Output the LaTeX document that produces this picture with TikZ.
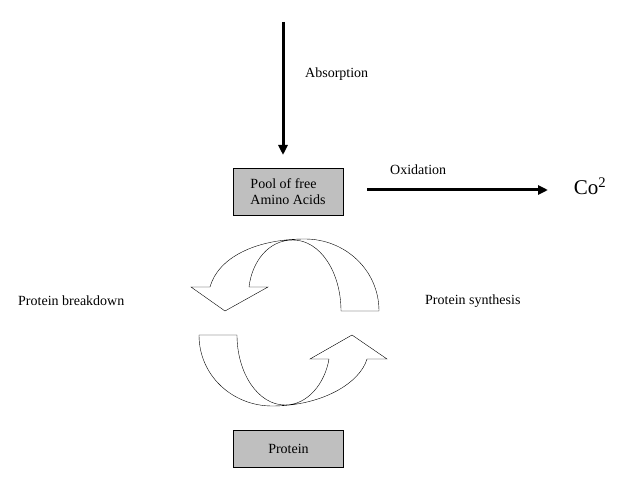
\documentclass[tikz,border=0pt]{standalone}
\usepackage{fontspec}
\setmainfont{Liberation Serif}
\usetikzlibrary{arrows.meta}
\begin{document}
\begin{tikzpicture}[x=1pt,y=-1pt,
 box/.style={draw,fill=black!25,minimum width=110pt,align=left,inner sep=2pt,font=\fontsize{14}{16}\selectfont},
 lbl/.style={font=\fontsize{14}{16}\selectfont,inner sep=0pt},
 big/.style={-{Triangle[length=10pt,width=9pt]},line width=3pt}]
\useasboundingbox (0,0) rectangle (619,492);
\node[box,minimum height=47pt] (pool) at (288,191.5) {Pool of free\\Amino Acids};
\node[box,minimum height=37pt] (prot) at (288.5,448.5) {Protein};
\coordinate (top) at (283,22);
\coordinate (abe) at (283,155);
\draw[big] (top) -- (abe);
\coordinate (oxs) at (367,190);
\coordinate (oxe) at (548,190);
\node[lbl,anchor=base] (co) at (590,195) {\fontsize{21}{23}\selectfont Co\textsuperscript{2}};
\draw[big] (oxs) -- (oxe);
\node[lbl,anchor=west] (abs) at (305,74) {Absorption};
\node[lbl,anchor=west] (ox) at (390,170) {Oxidation};
\node[lbl,anchor=west] (pb) at (18,301) {Protein breakdown};
\node[lbl,anchor=west] (ps) at (425,301) {Protein synthesis};
\draw[fill=white] (341,311) -- (379,311) .. controls (379,270) and (345,239) .. (305,239) .. controls (255,239) and (218,258) .. (210,287)
 -- (191,287) -- (225,311) -- (268,287) -- (249,287) .. controls (252,262) and (268,240) .. (293,240) .. controls (320,240) and (341,272) .. (341,311) -- cycle;
\draw[fill=white] (237,335) -- (199,335) .. controls (199,376) and (233,406) .. (272,406) .. controls (322,406) and (360,383) .. (367,359)
 -- (387,359) -- (352,335) -- (310,359) -- (329,359) .. controls (325,383) and (308,405) .. (285,405) .. controls (258,405) and (237,373) .. (237,335) -- cycle;
\end{tikzpicture}
\end{document}
